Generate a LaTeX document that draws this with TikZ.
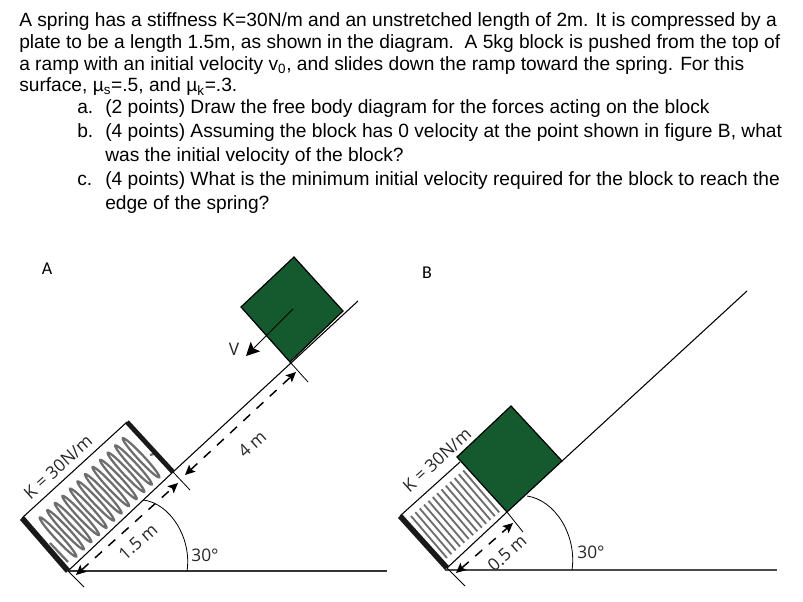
\documentclass[tikz,border=0pt]{standalone}
\usepackage{fontspec}
\usetikzlibrary{arrows.meta}
\setmainfont{Liberation Sans}
\newfontfamily\figfont{Open Sans}
\newfontfamily\tagfont{Carlito}
\definecolor{blockgreen}{HTML}{145A2E}
\definecolor{coilgray}{HTML}{6E6E6E}
\tikzset{
  textline/.style={anchor=base west,inner sep=0pt,font=\fontsize{14.38}{16}\selectfont},
  figlabel/.style={inner sep=0pt,font=\figfont\fontsize{13}{15}\selectfont,text=black!85},
  tagline/.style={inner sep=0pt,font=\tagfont\fontsize{13.5}{15}\selectfont},
  block/.style={draw=black,line width=0.9pt,fill=blockgreen,line join=miter},
  ramp/.style={draw=black,line width=0.8pt},
  plate/.style={draw=black!90,line width=3.6pt},
  ticks/.style={draw=black,line width=0.6pt},
  dim/.style={draw=black,line width=1.1pt,dash pattern=on 7pt off 6.5pt,{Stealth[length=7.5pt,width=7pt,inset=1.5pt]}-{Stealth[length=7.5pt,width=7pt,inset=1.5pt]}},
  coilA/.style={draw=coilgray,line width=1.7pt},
  coilB/.style={draw=coilgray,line width=1.4pt}
}
\begin{document}
\begin{tikzpicture}[x=0.75pt,y=-0.75pt]
  \useasboundingbox (0,0) rectangle (803,602);

  % question text
  \node[textline] (T1) at (19,27) {A spring has a stiffness K=30N/m and an unstretched length of 2m. It is compressed by a};
  \node[textline] (T2) at (19,49) {plate to be a length 1.5m, as shown in the diagram.\ \ A 5kg block is pushed from the top of};
  \node[textline] (T3) at (19,71) {a ramp with an initial velocity v\textsubscript{0}, and slides down the ramp toward the spring. For this};
  \node[textline] (T4) at (19,92) {surface, µ\textsubscript{s}=.5, and µ\textsubscript{k}=.3.};
  \node[textline] (Ta) at (77,114) {a.};
  \node[textline] (Tb) at (77,138) {b.};
  \node[textline] (Tc) at (77,186) {c.};
  \node[textline] (La) at (105,114) {(2 points) Draw the free body diagram for the forces acting on the block};
  \node[textline] (Lb) at (105,138) {(4 points) Assuming the block has 0 velocity at the point shown in figure B, what};
  \node[textline] (Lb2) at (105,162) {was the initial velocity of the block?};
  \node[textline] (Lc) at (105,186) {(4 points) What is the minimum initial velocity required for the block to reach the};
  \node[textline] (Lc2) at (105,210) {edge of the spring?};

  % figure A
  \node[tagline] (tagA) at (47,269) {A};
  \coordinate (A0) at (68,571);
  \coordinate (A1) at (22,518);
  \coordinate (A2) at (127,422);
  \coordinate (A3) at (173,472);
  \coordinate (A4) at (290,362);
  \coordinate (A5) at (358,301);
  \coordinate (A6) at (387,571);
  \foreach \i in {0,...,11}
    \draw[coilA] ({58+\i*7.55},{537-\i*7.2}) ellipse [x radius=20pt,y radius=2.2pt,rotate=-47];
  \draw[coilA] (50,543) -- (68,562);
  \draw[coilA] (150,455) -- (157,453);
  \draw[ramp] (A1) -- (A2);
  \draw[ramp] (A0) -- (A3) -- (A5);
  \draw[ramp,draw=black!80] (A0) -- (A6);
  \draw[plate,line width=4.2pt] (A1) -- (A0);
  \draw[plate] (A2) -- (A3);
  \draw[block] (294,257) -- (343,311) -- (A4) -- (241,307) -- cycle;
  \draw[ticks,-{Stealth[length=10pt,width=10pt,inset=2pt]}] (293,309) -- (246,356);
  \draw[ticks] (A0) -- (84,587);
  \draw[ticks] (A3) -- (190,490);
  \draw[ticks] (A4) -- (308,382);
  \draw[dim] (76,575) -- (178,483);
  \draw[dim] (185,475) -- (296,372);
  \draw[ticks] (143,500) .. controls (170,503) and (192,538) .. (187,571);
  \node[figlabel,rotate=42] (kA) at (58,467) {K = 30N/m};
  \node[figlabel,rotate=42] (lenA) at (138,542) {1.5 m};
  \node[figlabel,rotate=42] (gapA) at (252,444) {4 m};
  \node[figlabel] (angA) at (205,555) {30°};
  \node[figlabel] (velA) at (234,349) {V};

  % figure B
  \node[tagline] (tagB) at (427,273) {B};
  \coordinate (B0) at (447,568);
  \coordinate (B1) at (400,516);
  \coordinate (B2) at (460,462);
  \coordinate (B3) at (507,512);
  \coordinate (B4) at (562,461);
  \coordinate (B5) at (747,291);
  \coordinate (B6) at (777,570);
  \foreach \i in {0,...,12}
    \draw[coilB] ({429+\i*4.35-18},{537-\i*3.8-21}) -- ({429+\i*4.35+18},{537-\i*3.8+21});
  \draw[ramp] (B1) -- (B2);
  \draw[ramp] (B0) -- (B3);
  \draw[ramp] (B4) -- (B5);
  \draw[draw=black!70,line width=1.3pt] (445,570) -- (B6);
  \draw[plate,line width=4.2pt] (B1) -- (B0);
  \draw[block] (511,406) -- (B4) -- (B3) -- (457,457) -- cycle;
  \draw[ticks] (B0) -- (465,586);
  \draw[ticks] (B3) -- (523,532);
  \draw[dim] (456,573) -- (513,523);
  \draw[ticks] (527,496) .. controls (555,500) and (577,535) .. (572,570);
  \node[figlabel,rotate=42] (kB) at (437,460) {K = 30N/m};
  \node[figlabel,rotate=42] (lenB) at (507,553) {0.5 m};
  \node[figlabel] (angB) at (591,552) {30°};
\end{tikzpicture}
\end{document}
